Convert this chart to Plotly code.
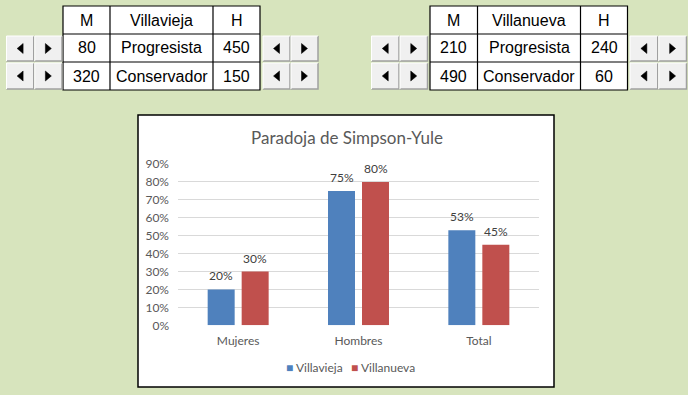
import plotly.graph_objects as go

W, H = 688, 395

# ---------------- data ----------------
categories = ["Mujeres", "Hombres", "Total"]
series_names = ["Villavieja", "Villanueva"]
villavieja = [0.20, 0.75, 0.53]
villanueva = [0.30, 0.80, 0.45]
tick_vals = [0.0, 0.1, 0.2, 0.3, 0.4, 0.5, 0.6, 0.7, 0.8, 0.9]
tick_text = ["0%", "10%", "20%", "30%", "40%", "50%", "60%", "70%", "80%", "90%"]

header_left = ["M", "Villavieja", "H"]
rows_left = [["80", "Progresista", "450"], ["320", "Conservador", "150"]]
header_right = ["M", "Villanueva", "H"]
rows_right = [["210", "Progresista", "240"], ["490", "Conservador", "60"]]

chart_title = "Paradoja de Simpson-Yule"

# ---------------- helpers ----------------
BG = "#D7E4BD"
BLUE = "#4F81BD"
RED = "#C0504D"
COLORS = [BLUE, RED]
CHART_FONT = "Lato"
TABLE_FONT = "Liberation Sans"


def fx(px):
    return px / W


def fy(py):
    return 1 - py / H


shapes = []
annotations = []


def rect(x0, y0, x1, y1, fill=None, line_color=None, lw=1, layer="above"):
    shapes.append(dict(type="rect", xref="paper", yref="paper",
                       x0=fx(x0), y0=fy(y1), x1=fx(x1), y1=fy(y0),
                       fillcolor=fill if fill else "rgba(0,0,0,0)",
                       line=dict(color=line_color if line_color else "rgba(0,0,0,0)",
                                 width=lw if line_color else 0),
                       layer=layer))


def path(points, fill=None, line_color=None, lw=1, closed=False):
    d = "M " + " L ".join(f"{fx(x):.5f},{fy(y):.5f}" for x, y in points)
    if closed:
        d += " Z"
    shapes.append(dict(type="path", xref="paper", yref="paper", path=d,
                       fillcolor=fill if fill else "rgba(0,0,0,0)",
                       line=dict(color=line_color if line_color else "rgba(0,0,0,0)",
                                 width=lw if line_color else 0),
                       layer="above"))


def text(px, py, s, size=16, color="#000000", family=TABLE_FONT, xanchor="center"):
    annotations.append(dict(xref="paper", yref="paper", x=fx(px), y=fy(py),
                            text=s, showarrow=False, xanchor=xanchor, yanchor="middle",
                            font=dict(size=size, color=color, family=family)))


def button(x0, y0, x1, y1, direction):
    rect(x0, y0, x1, y1, fill="#F0F0F0")
    path([(x0, y1), (x1, y1), (x1, y0)], line_color="#A0A0A0", lw=1.5)
    path([(x0, y1), (x0, y0), (x1, y0)], line_color="#FFFFFF", lw=1)
    cx, cy = (x0 + x1) / 2, (y0 + y1) / 2
    if direction == "left":
        pts = [(cx - 3, cy), (cx + 3, cy - 5), (cx + 3, cy + 5)]
    else:
        pts = [(cx + 3, cy), (cx - 3, cy - 5), (cx - 3, cy + 5)]
    path(pts, fill="#000000", line_color="#000000", lw=0.5, closed=True)


def table(xs, ys, header, rows):
    rect(xs[0], ys[0], xs[-1], ys[-1], fill="#FFFFFF", line_color="#000000", lw=1.2)
    for x in xs[1:-1]:
        path([(x, ys[0]), (x, ys[-1])], line_color="#000000", lw=1.2)
    for y in ys[1:-1]:
        path([(xs[0], y), (xs[-1], y)], line_color="#000000", lw=1.2)
    all_rows = [header] + rows
    for r, row in enumerate(all_rows):
        for c, val in enumerate(row):
            text((xs[c] + xs[c + 1]) / 2, (ys[r] + ys[r + 1]) / 2, val)


def button_pair(x0, x1, y0, y1):
    xm = (x0 + x1) / 2
    button(x0, y0, xm - 0.5, y1, "left")
    button(xm + 0.5, y0, x1, y1, "right")


# ---------------- tables & spinners ----------------
row_ys = [6, 34, 62, 90]
btn_rows = [(36, 61), (63, 89)]

table([63, 110, 213, 260], row_ys, header_left, rows_left)
table([430, 477.5, 580.5, 627.5], row_ys, header_right, rows_right)
for (y0, y1) in btn_rows:
    button_pair(6.5, 62, y0, y1)
    button_pair(263, 318, y0, y1)
    button_pair(371.5, 427.5, y0, y1)
    button_pair(630, 686.5, y0, y1)

# ---------------- chart box ----------------
rect(138, 115, 554, 387, fill="#FFFFFF", line_color="#000000", lw=1.5, layer="below")
text(347, 137, chart_title, size=17, color="#595959", family=CHART_FONT)

# custom legend (Excel style: small square close to text)
legend_x = [284, 349]
for lx, name, col in zip(legend_x, series_names, COLORS):
    text(lx, 367, f"<span style='color:{col}'>■</span> {name}", size=12,
         color="#595959", family=CHART_FONT, xanchor="left")

# ---------------- bars ----------------
fig = go.Figure()
for name, vals, col in zip(series_names, [villavieja, villanueva], COLORS):
    fig.add_trace(go.Bar(
        x=categories, y=vals, name=name, marker=dict(color=col, line=dict(width=0)),
        hoverinfo="x+y",
    ))

# data labels, positioned through the data axes
for shift, vals in zip([-17, 17], [villavieja, villanueva]):
    for cat, v in zip(categories, vals):
        annotations.append(dict(xref="x", yref="y", x=cat, y=v, text=f"{v:.0%}",
                                showarrow=False, xanchor="center", yanchor="bottom",
                                xshift=shift, yshift=4,
                                font=dict(size=12, color="#404040", family=CHART_FONT)))

fig.update_layout(
    width=W, height=H,
    margin=dict(l=0, r=0, t=0, b=0, autoexpand=False),
    paper_bgcolor=BG, plot_bgcolor="rgba(0,0,0,0)",
    barmode="group", bargap=0.435, bargroupgap=0.206,
    shapes=shapes, annotations=annotations,
    showlegend=False,
    xaxis=dict(domain=[fx(178), fx(539)], showline=False, ticks="", showgrid=False,
               automargin=False,
               tickfont=dict(size=12, color="#595959", family=CHART_FONT),
               ticklabelstandoff=7),
    yaxis=dict(domain=[fy(325.3), fy(164)], range=[0, 0.9], tickvals=tick_vals, ticktext=tick_text,
               automargin=False,
               showgrid=True, gridcolor="#D9D9D9", gridwidth=1, zeroline=False, showline=False,
               ticks="", tickfont=dict(size=12, color="#595959", family=CHART_FONT),
               ticklabelstandoff=8),
)

fig.write_html("out.html", config={"displayModeBar": False},
               post_script="document.body.style.margin='0';document.body.style.overflow='hidden';")
